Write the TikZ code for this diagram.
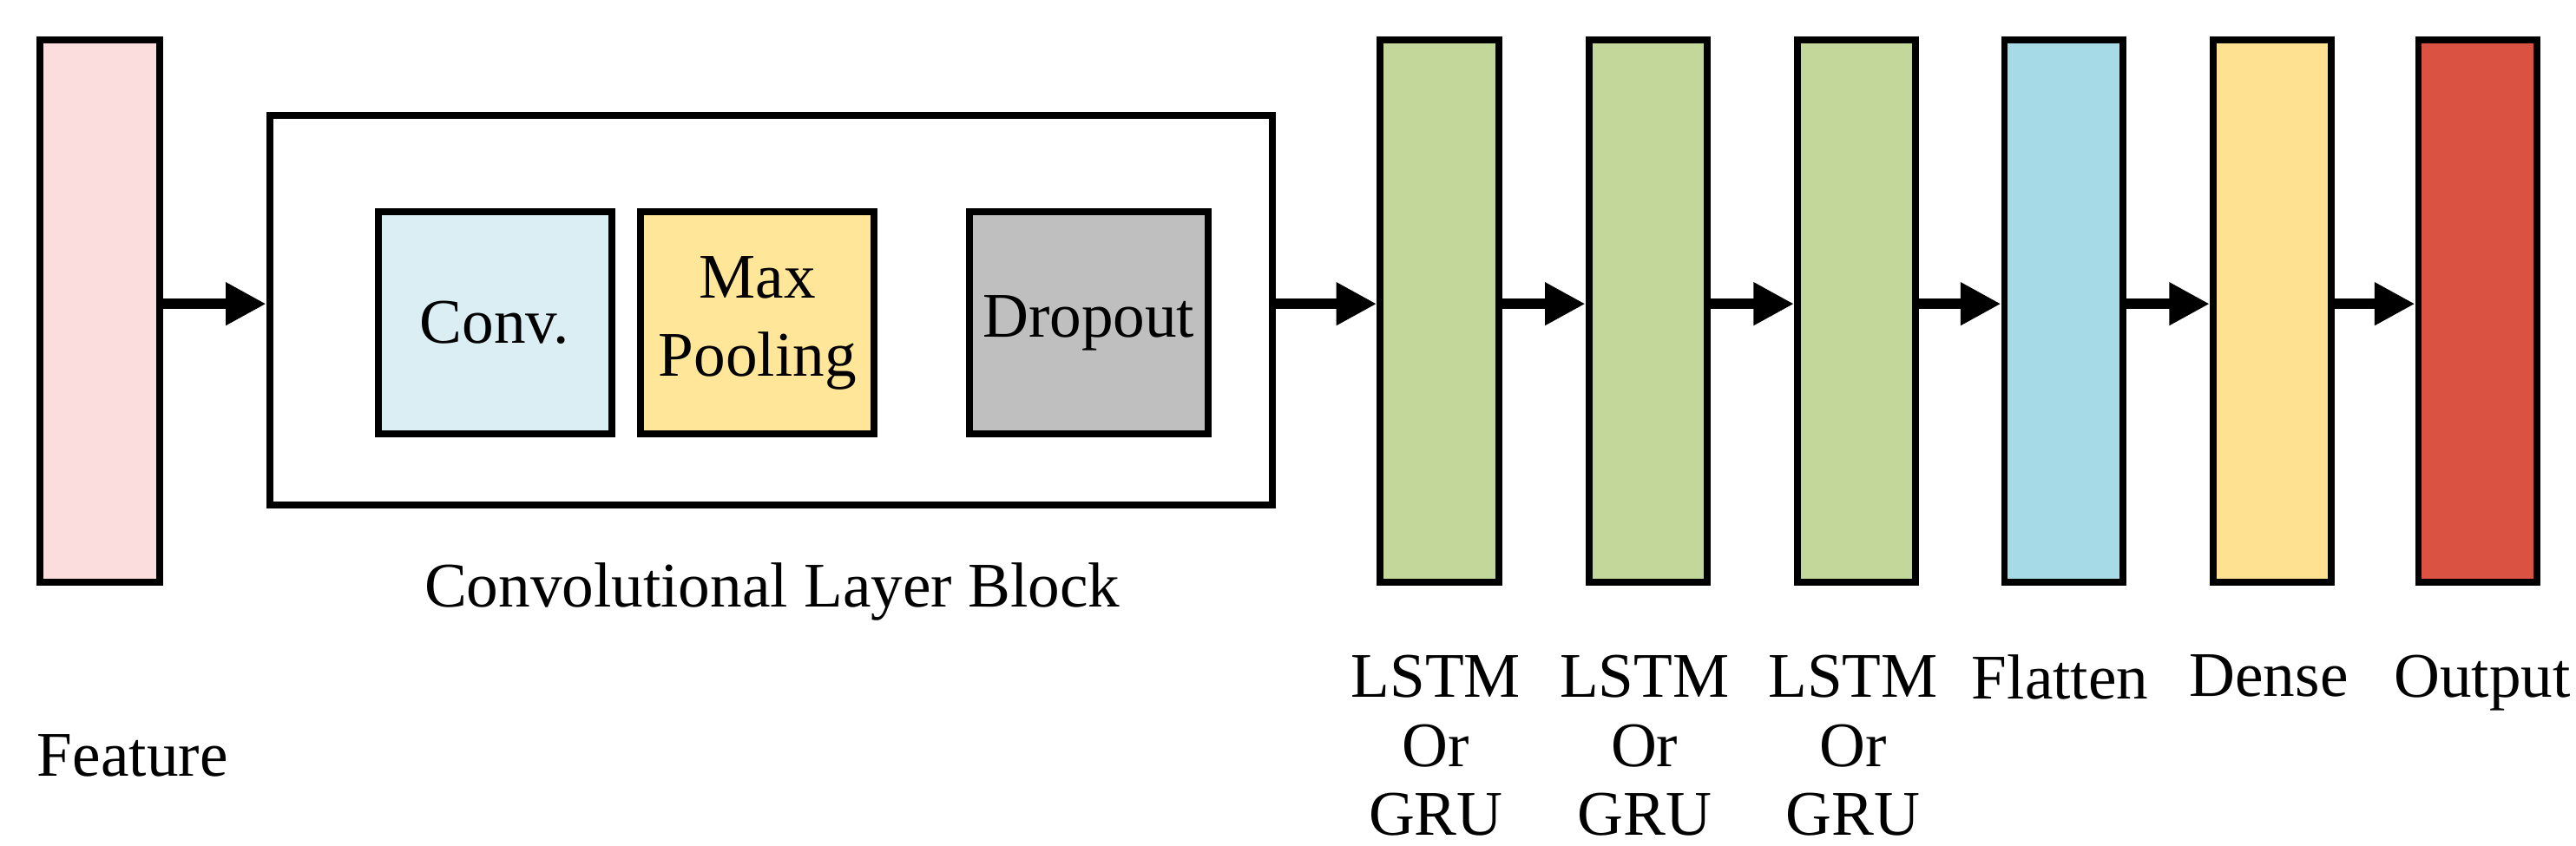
\documentclass[tikz,border=0pt]{standalone}
\usepackage{fontspec}
\setmainfont{Liberation Serif}
\usetikzlibrary{arrows.meta}
\definecolor{cpink}{RGB}{250,221,220}
\definecolor{cblue}{RGB}{219,238,244}
\definecolor{cyel}{RGB}{255,230,153}
\definecolor{cgray}{RGB}{191,191,191}
\definecolor{cgreen}{RGB}{195,215,155}
\definecolor{cblue2}{RGB}{165,218,230}
\definecolor{cyel2}{RGB}{255,226,145}
\definecolor{cred}{RGB}{218,82,66}
\begin{document}
\begin{tikzpicture}[x=0.01cm,y=-0.01cm,
  box/.style={draw=black,line width=1.2pt,anchor=north west,inner sep=0pt,font=\fontsize{11}{13.5}\selectfont,align=center},
  lbl/.style={font=\fontsize{11}{12}\selectfont,align=center,anchor=north,inner sep=0pt},
  arr/.style={line width=1.8pt,-{Triangle[length=7pt,width=7pt]}}]
\useasboundingbox (0,0) rectangle (1568,515);
\node[box,fill=cpink,minimum width=0.73cm,minimum height=3.3cm] (feat) at (22,22) {};
\node[box,minimum width=6.1cm,minimum height=2.37cm] (blk) at (162,68) {};
\node[box,fill=cblue,minimum width=1.42cm,minimum height=1.35cm] (conv) at (228,127) {Conv.};
\node[box,fill=cyel,minimum width=1.42cm,minimum height=1.35cm] (pool) at (388,127) {Max\\Pooling};
\node[box,fill=cgray,minimum width=1.45cm,minimum height=1.35cm] (drop) at (588,127) {Dropout};
\node[box,fill=cgreen,minimum width=0.72cm,minimum height=3.3cm] (l1) at (838,22) {};
\node[box,fill=cgreen,minimum width=0.72cm,minimum height=3.3cm] (l2) at (965,22) {};
\node[box,fill=cgreen,minimum width=0.72cm,minimum height=3.3cm] (l3) at (1092,22) {};
\node[box,fill=cblue2,minimum width=0.72cm,minimum height=3.3cm] (fl) at (1218,22) {};
\node[box,fill=cyel2,minimum width=0.72cm,minimum height=3.3cm] (de) at (1345,22) {};
\node[box,fill=cred,minimum width=0.72cm,minimum height=3.3cm] (out) at (1470,22) {};
\node[lbl] (tb) at (470,342) {Convolutional Layer Block};
\node[lbl,anchor=west] (tf) at (22,460) {Feature};
\node[lbl] (t1) at (874,398) {LSTM\\Or\\GRU};
\node[lbl] (t2) at (1001,398) {LSTM\\Or\\GRU};
\node[lbl] (t3) at (1128,398) {LSTM\\Or\\GRU};
\node[lbl] (t4) at (1254,398) {Flatten};
\node[lbl] (t5) at (1381,398) {Dense};
\node[lbl] (t6) at (1511,398) {Output};
\draw[arr] (feat.east|-0,185) -- (blk.west|-0,185);
\draw[arr] (blk.east|-0,185) -- (l1.west|-0,185);
\draw[arr] (l1.east|-0,185) -- (l2.west|-0,185);
\draw[arr] (l2.east|-0,185) -- (l3.west|-0,185);
\draw[arr] (l3.east|-0,185) -- (fl.west|-0,185);
\draw[arr] (fl.east|-0,185) -- (de.west|-0,185);
\draw[arr] (de.east|-0,185) -- (out.west|-0,185);
\end{tikzpicture}
\end{document}
